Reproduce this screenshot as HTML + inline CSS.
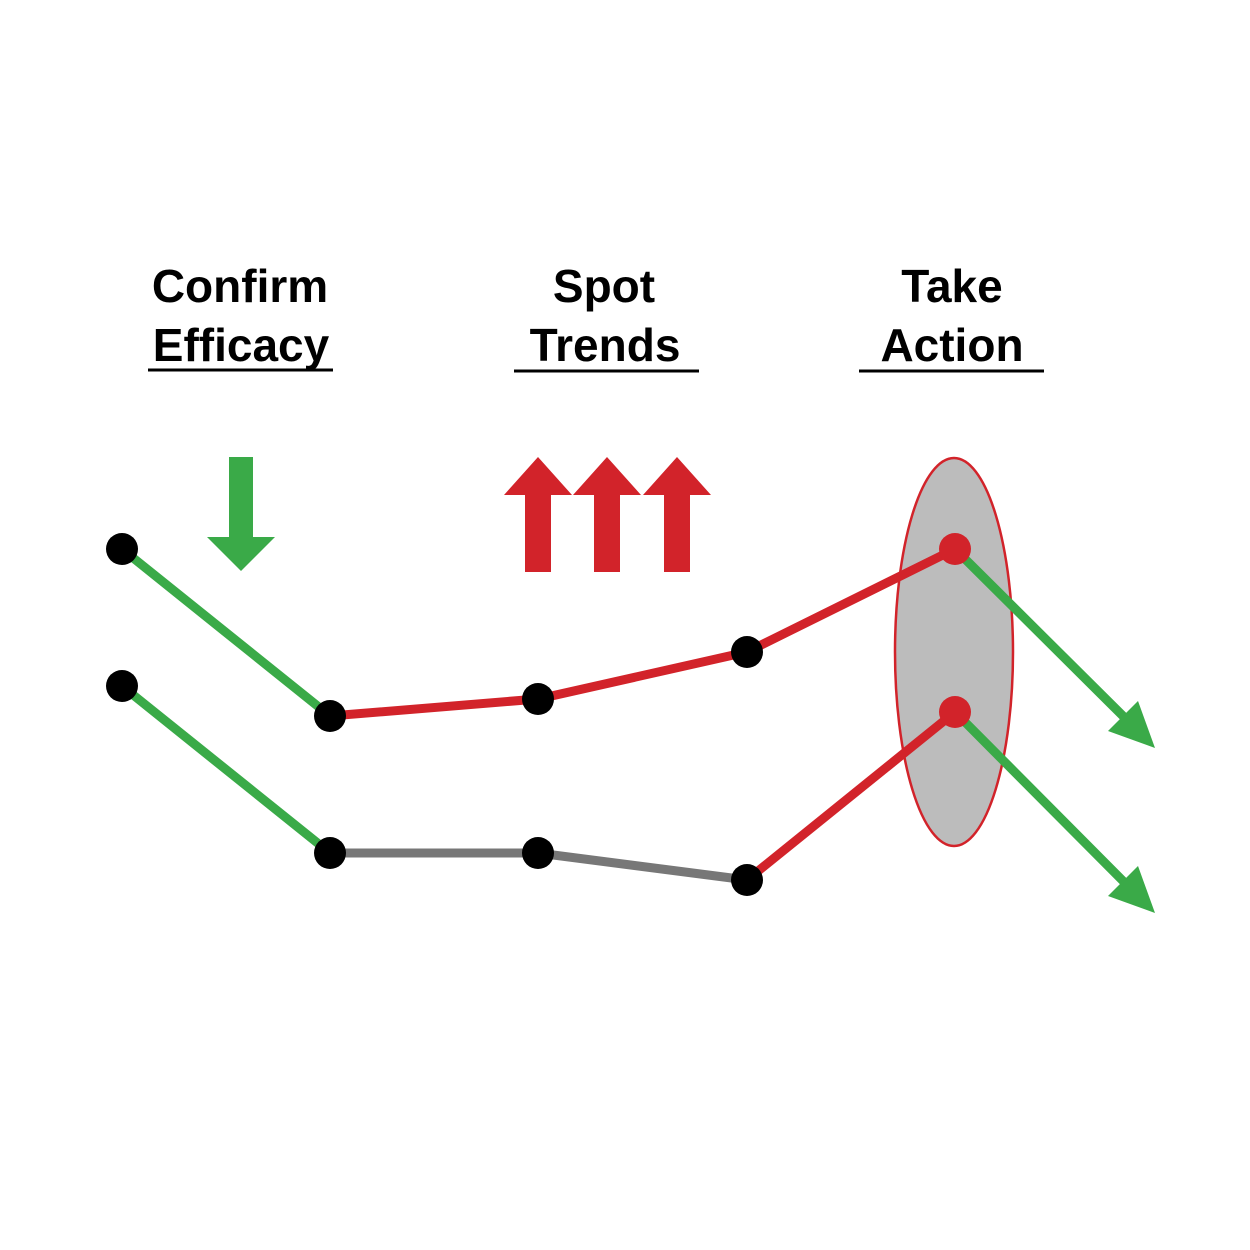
<!DOCTYPE html>
<html><head><meta charset="utf-8"><style>
html,body{margin:0;padding:0;background:#fff;}
svg{display:block;}
text{font-family:"Liberation Sans",sans-serif;font-weight:bold;font-size:46px;fill:#000;text-anchor:middle;}
</style></head><body>
<svg width="1250" height="1250" viewBox="0 0 1250 1250">
<rect width="1250" height="1250" fill="#fff"/>
<text x="240" y="302">Confirm</text>
<text x="241" y="361">Efficacy</text>
<line x1="148" y1="370" x2="333" y2="370" stroke="#000" stroke-width="3"/>
<text x="604" y="302">Spot</text>
<text x="605" y="361">Trends</text>
<line x1="514" y1="371" x2="699" y2="371" stroke="#000" stroke-width="3"/>
<text x="952" y="302">Take</text>
<text x="952" y="361">Action</text>
<line x1="859" y1="371" x2="1044" y2="371" stroke="#000" stroke-width="3"/>
<polygon points="229,457 253,457 253,537 275,537 241,571 207,537 229,537" fill="#3aaa48"/>
<g fill="#d2232a">
<polygon points="525,572 551,572 551,495 572,495 538,457 504,495 525,495"/>
<polygon points="594,572 620,572 620,495 641,495 607,457 573,495 594,495"/>
<polygon points="664,572 690,572 690,495 711,495 677,457 643,495 664,495"/>
</g>
<ellipse cx="954" cy="652" rx="59" ry="194" fill="#bcbcbc" stroke="#d2232a" stroke-width="2.5"/>
<g stroke-width="9" fill="none" stroke-linecap="round">
<line x1="122" y1="549" x2="330" y2="716" stroke="#3aaa48"/>
<polyline points="330,716 538,699 747,652 955,549" stroke="#d2232a"/>
<line x1="955" y1="549" x2="1128" y2="721" stroke="#3aaa48"/>
<line x1="122" y1="686" x2="330" y2="853" stroke="#3aaa48"/>
<polyline points="330,853 538,853 747,880" stroke="#777"/>
<line x1="747" y1="880" x2="955" y2="712" stroke="#d2232a"/>
<line x1="955" y1="712" x2="1128" y2="886" stroke="#3aaa48"/>
</g>
<polygon points="1155,748 1108,731 1138,701" fill="#3aaa48"/>
<polygon points="1155,913 1108,896 1138,866" fill="#3aaa48"/>
<g fill="#000">
<circle cx="122" cy="549" r="16"/>
<circle cx="330" cy="716" r="16"/>
<circle cx="538" cy="699" r="16"/>
<circle cx="747" cy="652" r="16"/>
<circle cx="122" cy="686" r="16"/>
<circle cx="330" cy="853" r="16"/>
<circle cx="538" cy="853" r="16"/>
<circle cx="747" cy="880" r="16"/>
</g>
<circle cx="955" cy="549" r="16" fill="#d2232a"/>
<circle cx="955" cy="712" r="16" fill="#d2232a"/>
</svg>
</body></html>
